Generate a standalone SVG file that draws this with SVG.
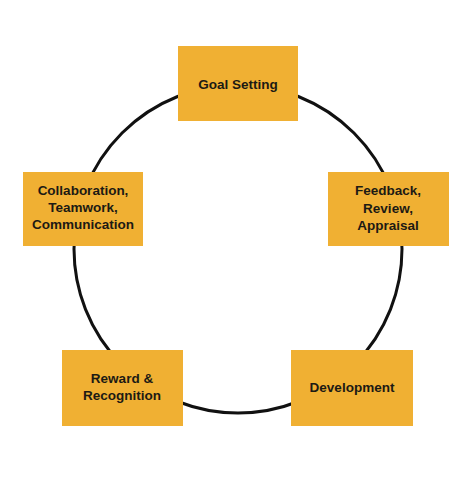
<svg xmlns="http://www.w3.org/2000/svg" width="474" height="488" viewBox="0 0 474 488">
<style>
.box{fill:#F0B033;}
.lbl{font-family:"Liberation Sans",Arial,sans-serif;font-weight:bold;font-size:13.5px;fill:#1c1a14;text-anchor:middle;}
</style>
<rect width="474" height="488" fill="#ffffff"/>
<g id="connectors">
<circle cx="238" cy="249" r="164" fill="none" stroke="#111111" stroke-width="3"/>
</g>
<g id="goal-setting">
<rect class="box" x="178" y="46" width="120" height="75"/>
<text class="lbl" x="238" y="89">Goal Setting</text>
</g>
<g id="feedback">
<rect class="box" x="328" y="172" width="121" height="74"/>
<text class="lbl" x="388" y="195">Feedback,</text>
<text class="lbl" x="388" y="213">Review,</text>
<text class="lbl" x="388" y="230">Appraisal</text>
</g>
<g id="development">
<rect class="box" x="291" y="350" width="122" height="76"/>
<text class="lbl" x="352" y="392">Development</text>
</g>
<g id="reward">
<rect class="box" x="62" y="350" width="121" height="76"/>
<text class="lbl" x="122" y="383">Reward &amp;</text>
<text class="lbl" x="122" y="400">Recognition</text>
</g>
<g id="collaboration">
<rect class="box" x="23" y="172" width="120" height="74"/>
<text class="lbl" x="83" y="195">Collaboration,</text>
<text class="lbl" x="83" y="212">Teamwork,</text>
<text class="lbl" x="83" y="229">Communication</text>
</g>
</svg>
